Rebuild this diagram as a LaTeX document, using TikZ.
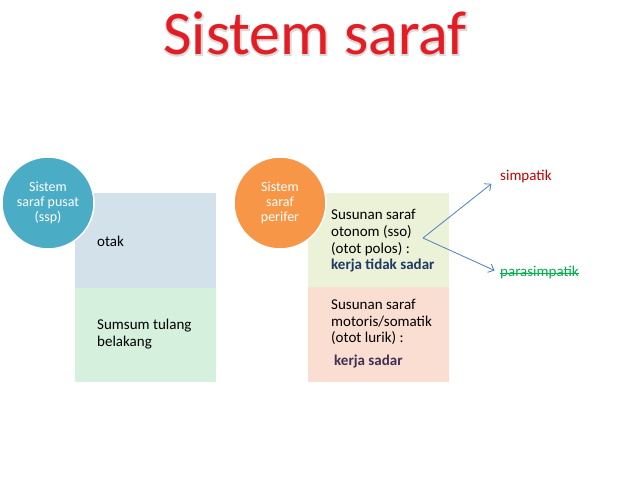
\documentclass[tikz,border=0pt]{standalone}
\usepackage{fontspec}
\setmainfont{Carlito}
\newfontfamily\glowfont[FakeBold=4]{Carlito}
\usetikzlibrary{arrows.meta}
\definecolor{titlered}{RGB}{228,28,36}
\definecolor{circblue}{RGB}{75,172,198}
\definecolor{circorange}{RGB}{247,150,70}
\definecolor{boxLA}{RGB}{210,225,234}
\definecolor{boxLB}{RGB}{213,240,220}
\definecolor{boxRA}{RGB}{235,242,216}
\definecolor{boxRB}{RGB}{250,222,210}
\definecolor{arrowblue}{RGB}{79,129,189}
\definecolor{simpred}{RGB}{192,0,0}
\definecolor{paragreen}{RGB}{0,176,80}
\definecolor{darkslate}{RGB}{31,56,100}
\definecolor{darkpurple}{RGB}{63,49,81}
\definecolor{glow}{RGB}{218,218,218}
\tikzset{
  panel/.style={draw=none, minimum width=141pt, inner sep=0pt},
  bubble/.style={circle, draw=white, line width=1.5pt, minimum size=92pt, inner sep=0pt,
     text=white, align=center, font=\fontsize{14}{15}\selectfont},
  bodytext/.style={anchor=west, align=left, inner sep=0pt, font=\fontsize{15}{16.7}\selectfont},
  titletext/.style={anchor=base, inner sep=0pt, font=\fontsize{62}{62}\selectfont},
  branch/.style={draw=arrowblue, line width=0.8pt, -{Straight Barb[length=5pt,width=9pt]}}
}
\begin{document}
\begin{tikzpicture}[x=1pt,y=-1pt]
\useasboundingbox (0,0) rectangle (638,478);
\fill[white] (0,0) rectangle (638,478);
% title with glow
\node[titletext, text=glow, font=\fontsize{62}{62}\glowfont] (titleglow) at (315,55) {Sistem saraf};
\node[titletext, text=titlered] (title) at (315,55) {Sistem saraf};
% left panels
\node[panel, fill=boxLA, minimum height=95pt] (la) at (145.5,240.5) {};
\node[panel, fill=boxLB, minimum height=94pt] (lb) at (145.5,335) {};
\node[bubble, fill=circblue] (ssp) at (48,203) {Sistem\\saraf pusat\\(ssp)};
\node[bodytext] (otak) at (97,241) {otak};
\node[bodytext] (sumsum) at (97,334) {Sumsum tulang\\belakang};
% right panels
\node[panel, fill=boxRA, minimum height=94pt] (ra) at (378.5,240) {};
\node[panel, fill=boxRB, minimum height=95pt] (rb) at (378.5,334.5) {};
\node[bubble, fill=circorange] (spe) at (280,203) {Sistem\\saraf\\perifer};
\node[bodytext] (sso) at (331,241) {Susunan saraf\\otonom (sso)\\(otot polos) :\\\textcolor{darkslate}{\bfseries kerja tidak sadar}};
\node[bodytext] (motor) at (331,322) {Susunan saraf\\motoris/somatik\\(otot lurik) :};
\node[bodytext, text=darkpurple, font=\fontsize{15}{16.7}\selectfont\bfseries] (sadar) at (334,362) {kerja sadar};
% branches
\coordinate (fork) at (423,238);
\node[bodytext, text=simpred] (simp) at (500,177) {simpatik};
\node[bodytext, text=paragreen] (para) at (500,273) {parasimpatik};
\draw[paragreen, line width=0.7pt] ([yshift=3.8pt]para.base west) -- ([yshift=3.8pt]para.base east);
\draw[branch, shorten >=11pt] (fork) -- (simp.west);
\draw[branch, shorten >=6pt] (fork) -- (para.west);
\end{tikzpicture}
\end{document}
